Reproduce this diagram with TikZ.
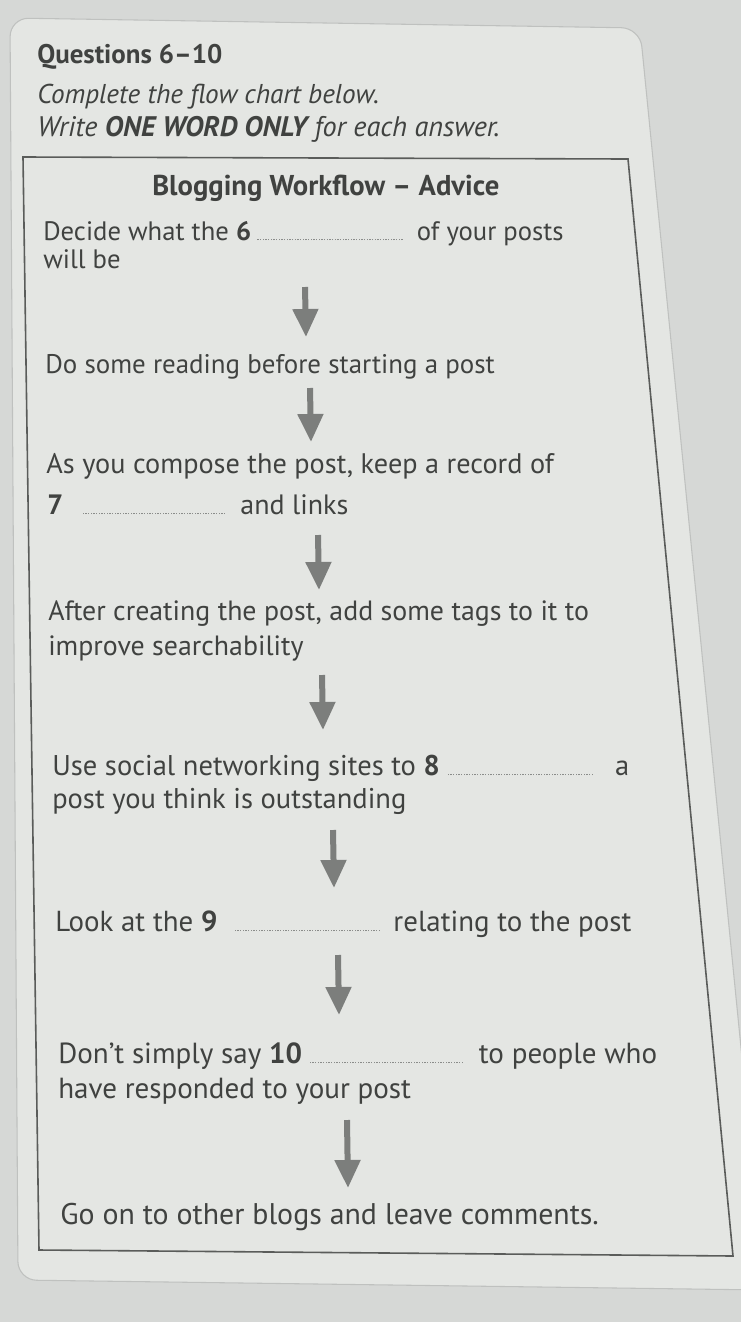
\documentclass[tikz,border=0pt]{standalone}
\usepackage{fontspec}
\setmainfont{PT Sans}
\usetikzlibrary{arrows.meta}
\definecolor{bg}{HTML}{D6D8D6}
\definecolor{paper}{HTML}{E4E6E3}
\definecolor{paperedge}{HTML}{BFC1BF}
\definecolor{ink}{HTML}{404240}
\definecolor{boxline}{HTML}{5A5C5A}
\definecolor{arrowgray}{HTML}{7C7E7C}
\definecolor{dots}{HTML}{8A8C8A}
\newcommand\blankline[1]{{\color{dots}\leaders\hbox to 2pt{\hss\rule{0.9pt}{0.9pt}\hss}\hskip#1\relax}}
\newcommand\fsz[1]{\fontsize{#1}{#1}\selectfont}
\begin{document}
\begin{tikzpicture}[x=0.75pt,y=-0.75pt,
  txt/.style={anchor=base west, inner sep=0pt, text=ink},
  flowarrow/.style={draw=arrowgray, line width=4.5pt, -{Triangle[width=18.5pt,length=21pt]}}]
\useasboundingbox (0,0) rectangle (741,1322);
\fill[bg] (0,0) rectangle (741,1322);
% paper sheet
\filldraw[fill=paper, draw=paperedge, line width=0.8pt, rounded corners=14pt]
  (10,18) -- (640,28) -- (765,1290) -- (18,1280) -- cycle;
% header
\node[txt, font=\fsz{20.2pt}\bfseries] (q) at (37,63) {Questions 6–10};
\node[txt, font=\fsz{20.4pt}\itshape] (c) at (37,103) {Complete the flow chart below.};
\node[txt, font=\fsz{21.2pt}\itshape] (w) at (37,136) {Write \textbf{ONE WORD ONLY} for each answer.};
% frame of the flow chart
\coordinate (tl) at (23,157);
\coordinate (tr) at (628,159);
\coordinate (br) at (733,1256);
\coordinate (bl) at (39,1250);
\draw[boxline, line width=1.2pt] (tl) -- (tr) -- (br) -- (bl) -- cycle;
% title
\node[txt, font=\fsz{21.5pt}\bfseries] (title) at (152,195) {Blogging Workflow – Advice};
% steps
\node[txt, font=\fsz{20pt}] (s1a) at (43,240) {Decide what the \textbf{6}\,\blankline{112pt}\hspace{9pt}of your posts};
\node[txt, font=\fsz{20pt}] (s1b) at (43,268) {will be};
\node[txt, font=\fsz{20.2pt}] (s2) at (45,373) {Do some reading before starting a post};
\node[txt, font=\fsz{21.2pt}] (s3a) at (46,473) {As you compose the post, keep a record of};
\node[txt, font=\fsz{21pt}] (s3b) at (47,514) {\textbf{7}\hspace{13pt}\blankline{110pt}\hspace{10pt}and links};
\node[txt, font=\fsz{20.9pt}] (s4a) at (48,620) {After creating the post, add some tags to it to};
\node[txt, font=\fsz{20.9pt}] (s4b) at (48,655) {improve searchability};
\node[txt, font=\fsz{21.4pt}] (s5a) at (52,775) {Use social networking sites to \textbf{8}\,\blankline{112pt}\hspace{16pt}a};
\node[txt, font=\fsz{21.4pt}] (s5b) at (52,808) {post you think is outstanding};
\node[txt, font=\fsz{21.7pt}] (s6) at (55,931) {Look at the \textbf{9}\hspace{11pt}\blankline{112pt}\hspace{9pt}relating to the post};
\node[txt, font=\fsz{21.8pt}] (s7a) at (58,1063) {Don't simply say \textbf{10}\,\blankline{118pt}\hspace{11pt}to people who};
\node[txt, font=\fsz{21.8pt}] (s7b) at (58,1098) {have responded to your post};
\node[txt, font=\fsz{22.4pt}] (s8) at (60,1224) {Go on to other blogs and leave comments.};
% arrow end points
\coordinate (a1t) at (305,287);  \coordinate (a1b) at (306,337);
\coordinate (a2t) at (310,388);  \coordinate (a2b) at (311,442);
\coordinate (a3t) at (318,535);  \coordinate (a3b) at (319,590);
\coordinate (a4t) at (322,675);  \coordinate (a4b) at (323,730);
\coordinate (a5t) at (333,830);  \coordinate (a5b) at (334,888);
\coordinate (a6t) at (338,955);  \coordinate (a6b) at (339,1015);
\coordinate (a7t) at (347,1120); \coordinate (a7b) at (348,1188);
\draw[flowarrow] (a1t) -- (a1b);
\draw[flowarrow] (a2t) -- (a2b);
\draw[flowarrow] (a3t) -- (a3b);
\draw[flowarrow] (a4t) -- (a4b);
\draw[flowarrow] (a5t) -- (a5b);
\draw[flowarrow] (a6t) -- (a6b);
\draw[flowarrow] (a7t) -- (a7b);
\end{tikzpicture}
\end{document}
